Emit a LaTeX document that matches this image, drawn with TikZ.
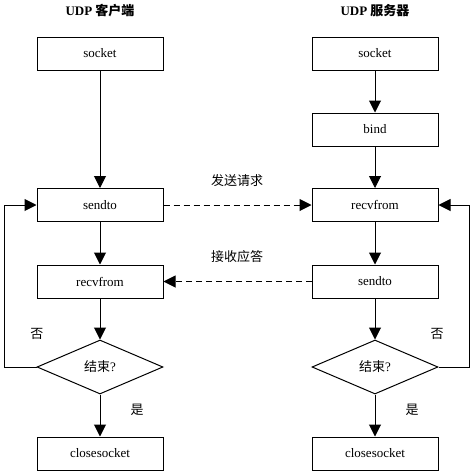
\documentclass[tikz,border=0pt]{standalone}
\usepackage{fontspec}
\setmainfont{Liberation Serif}
\newfontfamily\cjk{Noto Sans CJK SC}
\usetikzlibrary{arrows.meta, positioning, shapes.geometric}

\tikzset{
	stepbox/.style={draw, rectangle, minimum width=126pt, minimum height=33pt, inner sep=0pt},
	testbox/.style={draw, diamond, aspect=2.33, minimum width=126pt, minimum height=54pt, inner sep=0pt},
	flow/.style={-{Triangle[length=12pt, width=12pt]}},
	msg/.style={flow, dash pattern=on 6pt off 4pt},
}

\begin{document}
\begin{tikzpicture}[x=1pt, y=-1pt, line width=1pt, every node/.style={font=\fontsize{13}{15}\selectfont}]
			\useasboundingbox (0,0) rectangle (474,474);

			% Titles
			\node (ctitle) at (100, 11) {\bfseries UDP {\cjk 客户端}};
			\node (stitle) at (375, 11) {\bfseries UDP {\cjk 服务器}};

			% Client column
			\node[stepbox] (csock)  at (100, 53.5)  {socket};
			\node[stepbox] (csend)  at (100, 205)   {sendto};
			\node[stepbox] (crecv)  at (100, 281.5) {recvfrom};
			\node[testbox] (cend)   at (100, 367)   {{\cjk 结束}?};
			\node[stepbox] (cclose) at (100, 453.5) {closesocket};

			% Server column
			\node[stepbox] (ssock)  at (375, 53.5)  {socket};
			\node[stepbox] (sbind)  at (375, 129.5) {bind};
			\node[stepbox] (srecv)  at (375, 205)   {recvfrom};
			\node[stepbox] (ssend)  at (375, 281.5) {sendto};
			\node[testbox] (send)   at (375, 367)   {{\cjk 结束}?};
			\node[stepbox] (sclose) at (375, 453.5) {closesocket};

			% Draw the arrows down each column
			\draw[flow] (csock) -- (csend);
			\draw[flow] (csend) -- (crecv);
			\draw[flow] (crecv) -- (cend);
			\draw[flow] (cend) -- (cclose);

			\draw[flow] (ssock) -- (sbind);
			\draw[flow] (sbind) -- (srecv);
			\draw[flow] (srecv) -- (ssend);
			\draw[flow] (ssend) -- (send);
			\draw[flow] (send) -- (sclose);

			% Draw the loops back
			\draw[flow] (cend.west) -- ++(-32, 0) |- (csend.west);
			\draw[flow] (send.east) -- ++(31, 0) |- (srecv.east);

			% Draw the messages between client and server
			\draw[msg] (csend.east) -- (srecv.west);
			\draw[msg] (ssend.west) -- (crecv.east);

			\node (req) at (237, 181) {\cjk 发送请求};
			\node (ack) at (237, 257) {\cjk 接收应答};

			\node (cno)  at (37, 334)  {\cjk 否};
			\node (sno)  at (437, 334) {\cjk 否};
			\node (cyes) at (137, 410) {\cjk 是};
			\node (syes) at (412, 410) {\cjk 是};

		\end{tikzpicture}
\end{document}
